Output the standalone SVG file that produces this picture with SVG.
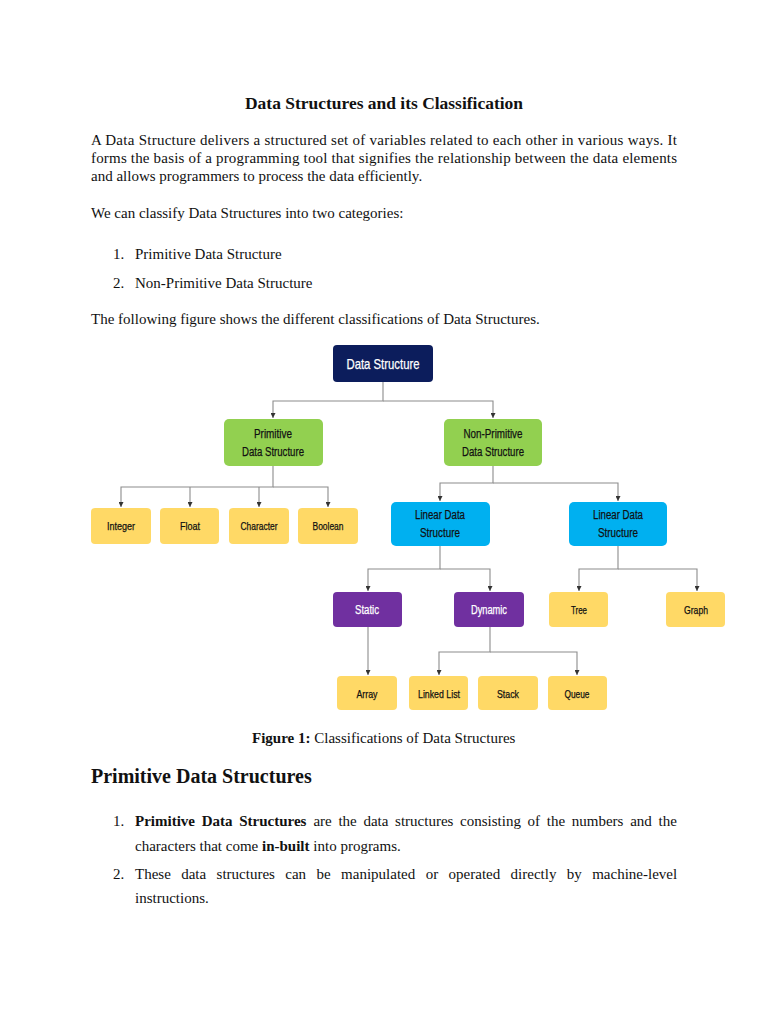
<svg xmlns="http://www.w3.org/2000/svg" width="768" height="1024" viewBox="0 0 768 1024">
<defs>
<style>
.doc{font-family:"Liberation Serif","Times New Roman",serif;font-size:15px;fill:#111}
.t17{font-size:17px}
.t20{font-size:20px}
.b{font-weight:bold}
.lbl{font-family:"Liberation Sans",Arial,sans-serif;fill:#111;stroke:#111;stroke-width:0.25;text-anchor:middle}
.w{fill:#ffffff;stroke:#ffffff}
.c{fill:none;stroke:#8c8c8c;stroke-width:1.1}
.root{fill:#0c1d5c}
.green{fill:#92d050}
.blue{fill:#00b0f0}
.purple{fill:#7030a0}
.yellow{fill:#ffd966}
</style>
<marker id="ah" markerUnits="userSpaceOnUse" markerWidth="6" markerHeight="5" refX="5" refY="2.5" orient="auto">
<path d="M0,0 L5,2.5 L0,5 Z" fill="#333"/>
</marker>
</defs>
<rect width="768" height="1024" fill="#ffffff"/>

<g id="text-body">
<text class="doc b t17" x="384" y="109" text-anchor="middle" textLength="278" lengthAdjust="spacingAndGlyphs">Data Structures and its Classification</text>
<text class="doc" x="91" y="145" textLength="586" lengthAdjust="spacing">A Data Structure delivers a structured set of variables related to each other in various ways. It</text>
<text class="doc" x="91" y="163" textLength="586" lengthAdjust="spacing">forms the basis of a programming tool that signifies the relationship between the data elements</text>
<text class="doc" x="91" y="181">and allows programmers to process the data efficiently.</text>
<text class="doc" x="91" y="218">We can classify Data Structures into two categories:</text>
<text class="doc" x="113" y="259">1.</text>
<text class="doc" x="135" y="259">Primitive Data Structure</text>
<text class="doc" x="113" y="288">2.</text>
<text class="doc" x="135" y="288">Non-Primitive Data Structure</text>
<text class="doc" x="91" y="324">The following figure shows the different classifications of Data Structures.</text>
<text class="doc" x="252" y="743"><tspan class="b">Figure 1:</tspan> Classifications of Data Structures</text>
<text class="doc b t20" x="91" y="783">Primitive Data Structures</text>
<text class="doc" x="113" y="826">1.</text>
<text class="doc" y="826"><tspan class="b" x="135">Primitive</tspan><tspan class="b" x="201.7">Data</tspan><tspan class="b" x="239.2">Structures</tspan><tspan x="313.4">are</tspan><tspan x="338.4">the</tspan><tspan x="363.4">data</tspan><tspan x="395.1">structures</tspan><tspan x="460.1">consisting</tspan><tspan x="527.6">of</tspan><tspan x="546.8">the</tspan><tspan x="571.8">numbers</tspan><tspan x="630.2">and</tspan><tspan x="658.6">the</tspan></text>
<text class="doc" x="135" y="851">characters that come <tspan class="b">in-built</tspan> into programs.</text>
<text class="doc" x="113" y="879">2.</text>
<text class="doc" y="879"><tspan x="135">These</tspan><tspan x="181.2">data</tspan><tspan x="216.6">structures</tspan><tspan x="285.3">can</tspan><tspan x="316.5">be</tspan><tspan x="341.1">manipulated</tspan><tspan x="425.7">or</tspan><tspan x="448.6">operated</tspan><tspan x="510.6">directly</tspan><tspan x="566.8">by</tspan><tspan x="592.2">machine-level</tspan></text>
<text class="doc" x="135" y="903">instructions.</text>
</g>

<g id="connectors">
<polyline class="c" points="383,382 383,401 273,401 273,418" marker-end="url(#ah)"/>
<polyline class="c" points="383,401 493,401 493,418" marker-end="url(#ah)"/>
<polyline class="c" points="273,466 273,487 121,487 121,507" marker-end="url(#ah)"/>
<polyline class="c" points="190,487 190,507" marker-end="url(#ah)"/>
<polyline class="c" points="259,487 259,507" marker-end="url(#ah)"/>
<polyline class="c" points="273,487 328,487 328,507" marker-end="url(#ah)"/>
<polyline class="c" points="493,466 493,483 440,483 440,501" marker-end="url(#ah)"/>
<polyline class="c" points="493,483 618,483 618,501" marker-end="url(#ah)"/>
<polyline class="c" points="440,546 440,569 368,569 368,591" marker-end="url(#ah)"/>
<polyline class="c" points="440,569 490,569 490,591" marker-end="url(#ah)"/>
<polyline class="c" points="618,546 618,569 579,569 579,591" marker-end="url(#ah)"/>
<polyline class="c" points="618,569 697,569 697,591" marker-end="url(#ah)"/>
<polyline class="c" points="368,627 368,675" marker-end="url(#ah)"/>
<polyline class="c" points="490,627 490,652 439,652 439,675" marker-end="url(#ah)"/>
<polyline class="c" points="490,652 577,652 577,675" marker-end="url(#ah)"/>
</g>

<g id="n-root"><rect class="root" x="333" y="345" width="100" height="37" rx="4"/><text class="lbl w" x="383" y="369" font-size="15" textLength="73" lengthAdjust="spacingAndGlyphs">Data Structure</text></g>

<g id="n-primitive"><rect class="green" x="224" y="419" width="99" height="47" rx="5"/><text class="lbl" x="273" y="438" font-size="12.5" textLength="38" lengthAdjust="spacingAndGlyphs">Primitive</text><text class="lbl" x="273" y="456" font-size="12.5" textLength="62" lengthAdjust="spacingAndGlyphs">Data Structure</text></g>
<g id="n-nonprimitive"><rect class="green" x="444" y="419" width="98" height="47" rx="5"/><text class="lbl" x="493" y="438" font-size="12.5" textLength="59" lengthAdjust="spacingAndGlyphs">Non-Primitive</text><text class="lbl" x="493" y="456" font-size="12.5" textLength="62" lengthAdjust="spacingAndGlyphs">Data Structure</text></g>

<g id="n-integer"><rect class="yellow" x="91" y="508" width="60" height="36" rx="4"/><text class="lbl" x="121" y="530" font-size="11" textLength="28" lengthAdjust="spacingAndGlyphs">Integer</text></g>
<g id="n-float"><rect class="yellow" x="160" y="508" width="59" height="36" rx="4"/><text class="lbl" x="190" y="530" font-size="11" textLength="20" lengthAdjust="spacingAndGlyphs">Float</text></g>
<g id="n-character"><rect class="yellow" x="229" y="508" width="60" height="36" rx="4"/><text class="lbl" x="259" y="530" font-size="11" textLength="37" lengthAdjust="spacingAndGlyphs">Character</text></g>
<g id="n-boolean"><rect class="yellow" x="298" y="508" width="60" height="36" rx="4"/><text class="lbl" x="328" y="530" font-size="11" textLength="31" lengthAdjust="spacingAndGlyphs">Boolean</text></g>

<g id="n-linear1"><rect class="blue" x="391" y="502" width="99" height="44" rx="5"/><text class="lbl" x="440" y="519" font-size="12.5" textLength="50" lengthAdjust="spacingAndGlyphs">Linear Data</text><text class="lbl" x="440" y="537" font-size="12.5" textLength="40" lengthAdjust="spacingAndGlyphs">Structure</text></g>
<g id="n-linear2"><rect class="blue" x="569" y="502" width="98" height="44" rx="5"/><text class="lbl" x="618" y="519" font-size="12.5" textLength="50" lengthAdjust="spacingAndGlyphs">Linear Data</text><text class="lbl" x="618" y="537" font-size="12.5" textLength="40" lengthAdjust="spacingAndGlyphs">Structure</text></g>

<g id="n-static"><rect class="purple" x="333" y="592" width="69" height="35" rx="4"/><text class="lbl w" x="367" y="614" font-size="12" textLength="24" lengthAdjust="spacingAndGlyphs">Static</text></g>
<g id="n-dynamic"><rect class="purple" x="454" y="592" width="70" height="35" rx="4"/><text class="lbl w" x="489" y="614" font-size="12" textLength="36" lengthAdjust="spacingAndGlyphs">Dynamic</text></g>
<g id="n-tree"><rect class="yellow" x="549" y="592" width="59" height="35" rx="4"/><text class="lbl" x="579" y="614" font-size="11" textLength="16" lengthAdjust="spacingAndGlyphs">Tree</text></g>
<g id="n-graph"><rect class="yellow" x="666" y="592" width="59" height="35" rx="4"/><text class="lbl" x="696" y="614" font-size="11" textLength="24" lengthAdjust="spacingAndGlyphs">Graph</text></g>

<g id="n-array"><rect class="yellow" x="337" y="676" width="60" height="34" rx="4"/><text class="lbl" x="367" y="698" font-size="11" textLength="21" lengthAdjust="spacingAndGlyphs">Array</text></g>
<g id="n-linkedlist"><rect class="yellow" x="409" y="676" width="59" height="34" rx="4"/><text class="lbl" x="439" y="698" font-size="11" textLength="42" lengthAdjust="spacingAndGlyphs">Linked List</text></g>
<g id="n-stack"><rect class="yellow" x="478" y="676" width="60" height="34" rx="4"/><text class="lbl" x="508" y="698" font-size="11" textLength="22" lengthAdjust="spacingAndGlyphs">Stack</text></g>
<g id="n-queue"><rect class="yellow" x="548" y="676" width="59" height="34" rx="4"/><text class="lbl" x="577" y="698" font-size="11" textLength="25" lengthAdjust="spacingAndGlyphs">Queue</text></g>
</svg>
